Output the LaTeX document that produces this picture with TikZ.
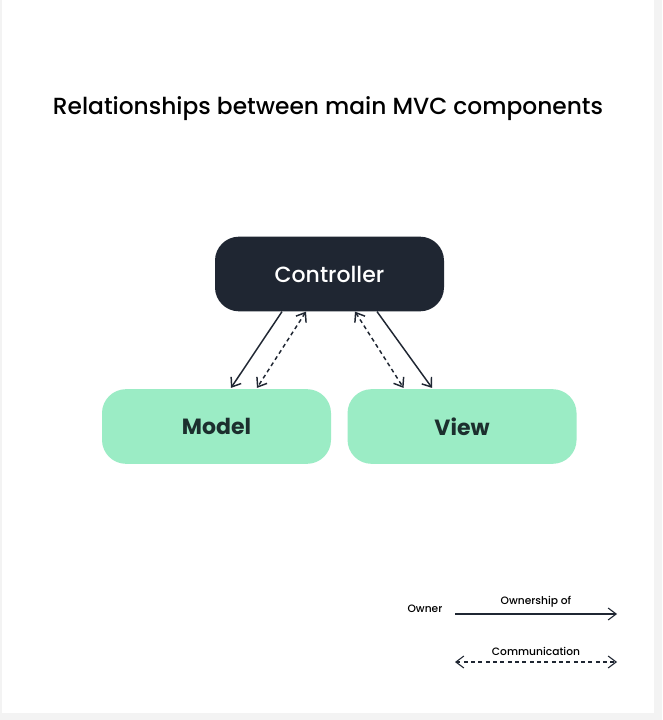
\documentclass[tikz,border=0pt]{standalone}
\usepackage{fontspec}
\setmainfont{Poppins}
\newfontfamily\medfont{Poppins Medium}
\usetikzlibrary{positioning,calc,arrows.meta}

\definecolor{navy}{HTML}{1F2632}
\definecolor{mint}{HTML}{9BECC5}
\definecolor{ink}{HTML}{1C2F2E}
\definecolor{frame}{HTML}{F3F3F3}

\begin{document}
\begin{tikzpicture}[
        x=0.75pt, y=-0.75pt,
        box/.style={minimum width=171.75pt, minimum height=56pt, rounded corners=18pt, inner sep=0pt},
        ctrlbox/.style={box, fill=navy, text=white, font=\medfont\fontsize{16.5}{19}\selectfont},
        partbox/.style={box, fill=mint, text=ink, font=\fontsize{16.5}{19}\selectfont\bfseries},
        owns/.style={draw=navy, line width=1.1pt, -{Straight Barb[length=6pt,width=9pt]}},
        talks/.style={draw=navy, line width=1.1pt, dash pattern=on 3pt off 2.5pt, {Straight Barb[length=6pt,width=9pt]}-{Straight Barb[length=6pt,width=9pt]}},
        legend/.style={font=\medfont\fontsize{8}{10}\selectfont, text=black}
    ]

    % --- Canvas ---
    \fill[frame] (0,0) rectangle (662,720);
    \fill[white] (2,0) rectangle (654,713);
    \useasboundingbox (0,0) rectangle (662,720);

    % --- Title ---
    \node[font=\medfont\fontsize{17.5}{20}\selectfont] (title) at (328,109) {Relationships between main MVC components};

    % --- Components ---
    \node[ctrlbox] (ctrl) at (329.5,274) {Controller};
    \node[partbox] (model) at (216.5,426.5) {Model};
    \node[partbox, right=12pt of model] (view) {View};

    % --- Connections ---
    \draw[owns] ($(ctrl.south)+(-47.5,0)$) -- ($(model.north)+(14.5,-1)$);
    \draw[talks] ($(ctrl.south)+(-23.5,0)$) -- ($(model.north)+(40.5,-1)$);
    \draw[talks] ($(ctrl.south)+(25.5,0)$) -- ($(view.north)+(-58.5,-1)$);
    \draw[owns] ($(ctrl.south)+(47.5,0)$) -- ($(view.north)+(-30,-1)$);

    % --- Legend ---
    \node[legend] (owner) at (425,609) {Owner};
    \coordinate (ownA) at (455,614);
    \coordinate (ownB) at (617,614);
    \draw[owns, line width=0.8pt] (ownA) -- node[legend, above=1pt] (ownlbl) {Ownership of} (ownB);
    \coordinate (comA) at (455,662);
    \coordinate (comB) at (617,662);
    \draw[talks, line width=0.8pt] (comA) -- node[legend, above=1pt] (comlbl) {Communication} (comB);

\end{tikzpicture}
\end{document}
